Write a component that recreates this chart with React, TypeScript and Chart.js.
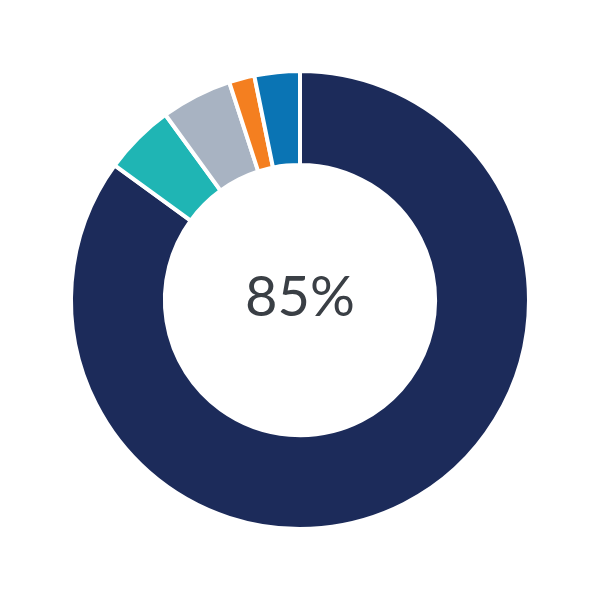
import React, { useEffect, useRef } from "react";
import { Chart, registerables } from "chart.js";

Chart.register(...registerables);

const categories = ["Category A", "Category B", "Category C", "Category D", "Category E"];
const values = [85, 5, 5, 1.8, 3.2];
const colors = ["#1c2b5a", "#1fb5b4", "#a8b3c2", "#f47f20", "#0a74b4"];
const centerLabel = "85%";

const centerTextPlugin = {
  id: "centerText",
  afterDraw(chart: any) {
    const { ctx } = chart;
    const meta = chart.getDatasetMeta(0);
    const arc = meta.data[0];
    if (!arc) return;
    ctx.save();
    ctx.font = "56px Lato";
    ctx.fillStyle = "#3a3f45";
    ctx.textAlign = "center";
    ctx.textBaseline = "middle";
    ctx.fillText(centerLabel, arc.x, arc.y - 2);
    ctx.restore();
  },
};

export default function App() {
  const ref = useRef<HTMLCanvasElement | null>(null);
  useEffect(() => {
    if (!ref.current) return;
    const chart = new Chart(ref.current, {
      type: "doughnut",
      data: {
        labels: categories,
        datasets: [
          {
            data: values,
            backgroundColor: colors,
            borderColor: "#ffffff",
            borderWidth: 4,
          },
        ],
      },
      options: {
        animation: false,
        responsive: false,
        cutout: "59%",
        layout: { padding: 69 },
        plugins: {
          legend: { display: false },
          tooltip: { enabled: false },
        },
      },
      plugins: [centerTextPlugin],
    });
    return () => chart.destroy();
  }, []);
  return (
    <div style={{ position: "fixed", left: 0, top: 0, width: 600, height: 600, background: "#fff" }}>
      <canvas ref={ref} width={600} height={600} style={{ width: 600, height: 600 }} />
    </div>
  );
}
